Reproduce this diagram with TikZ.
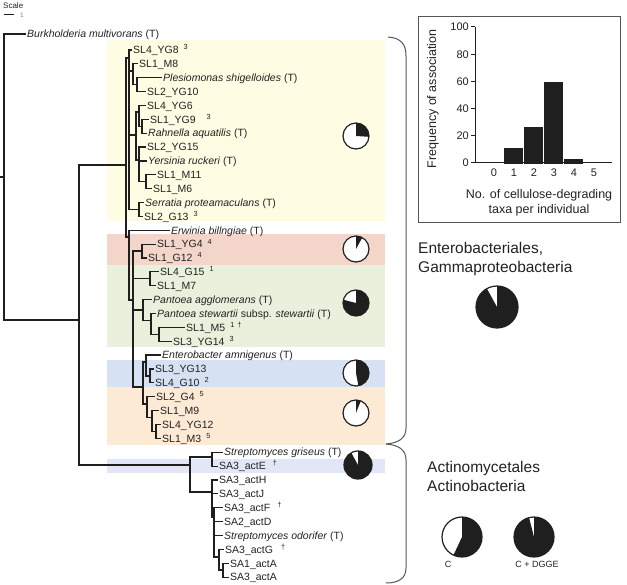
\documentclass[tikz,border=0pt]{standalone}
\usepackage{fontspec}
\setmainfont{Liberation Sans}
\definecolor{ink}{HTML}{1F1F1F}
\definecolor{txt}{HTML}{222222}
\definecolor{bandY}{HTML}{FEFCE2}
\definecolor{bandR}{HTML}{F4D5C9}
\definecolor{bandG}{HTML}{E9F1DC}
\definecolor{bandB}{HTML}{D6E2F4}
\definecolor{bandO}{HTML}{FDEAD5}
\definecolor{bandL}{HTML}{E3E6F7}
\definecolor{frame}{HTML}{555555}
\newcommand{\mypie}[3]{%
  \fill[white] #1 circle[radius=#2];
  \fill[ink] #1 -- ++(90:#2) arc[start angle=90,end angle={90-360*#3},radius=#2] -- cycle;
  \draw[ink,line width=1.2pt] #1 circle[radius=#2];}
\newcommand{\supgap}[1]{\hspace{5pt}\textsuperscript{#1}}
\begin{document}
\begin{tikzpicture}[x=1pt,y=-1pt,
  br/.style={draw=ink,line width=1.2pt},
  lf/.style={anchor=west,inner sep=1pt,text=txt,font=\fontsize{10.5}{12}\selectfont,text height=7.6pt,text depth=0pt},
  tk/.style={inner sep=0pt,text=txt,font=\fontsize{11}{12}\selectfont,text height=7.9pt,text depth=0pt},
  big/.style={anchor=base west,inner sep=0pt,text=txt,font=\fontsize{15.5}{19}\selectfont},
  axl/.style={inner sep=0pt,text=txt,font=\fontsize{12.5}{15}\selectfont},
  brc/.style={draw=frame,line width=1pt}]
\useasboundingbox (0,0) rectangle (627,585);
% bands
\fill[bandY] (107,40) rectangle (385,221);
\fill[bandR] (107,234) rectangle (385,265);
\fill[bandG] (107,265) rectangle (385,347);
\fill[bandB] (107,360) rectangle (385,387);
\fill[bandO] (107,387) rectangle (385,445);
\fill[bandL] (107,459) rectangle (385,473);
% scale
\node[anchor=west,inner sep=0pt,font=\fontsize{8}{9}\selectfont,text=txt] (scl) at (3,6) {Scale};
\coordinate (sb1) at (4,15); \coordinate (sb2) at (14,15);
\draw[ink,line width=1pt] (sb1) -- (sb2);
\node[inner sep=0pt,font=\fontsize{6.5}{7}\selectfont,text=gray] (sbl) at (22,15) {1};
% leaves
\node[lf] (bur) at (26,34) {\textit{Burkholderia multivorans} (T)};
\node[lf] (l1) at (132,50.0) {SL4\_YG8\supgap{3}};
\node[lf] (l2) at (138,63.9) {SL1\_M8};
\node[lf] (l3) at (162,77.7) {\textit{Plesiomonas shigelloides} (T)};
\node[lf] (l4) at (146,91.6) {SL2\_YG10};
\node[lf] (l5) at (146,105.5) {SL4\_YG6};
\node[lf] (l6) at (149,119.4) {SL1\_YG9\hspace{11pt}\textsuperscript{3}};
\node[lf] (l7) at (147,133.2) {\textit{Rahnella aquatilis} (T)};
\node[lf] (l8) at (146,147.1) {SL2\_YG15};
\node[lf] (l9) at (147,161.0) {\textit{Yersinia ruckeri} (T)};
\node[lf] (l10) at (156,174.8) {SL1\_M11};
\node[lf] (l11) at (152,188.7) {SL1\_M6};
\node[lf] (l12) at (144,202.6) {\textit{Serratia proteamaculans} (T)};
\node[lf] (l13) at (143,216.4) {SL2\_G13\supgap{3}};
\node[lf] (l14) at (170,230.3) {\textit{Erwinia billngiae} (T)};
\node[lf] (l15) at (156,244.2) {SL1\_YG4\supgap{4}};
\node[lf] (l16) at (147,258.1) {SL1\_G12\supgap{4}};
\node[lf] (l17) at (159,271.9) {SL4\_G15\supgap{1}};
\node[lf] (l18) at (156,285.8) {SL1\_M7};
\node[lf] (l19) at (152,299.7) {\textit{Pantoea agglomerans} (T)};
\node[lf] (l20) at (156,313.5) {\textit{Pantoea stewartii} subsp. \textit{stewartii} (T)};
\node[lf] (l21) at (185,327.4) {SL1\_M5\supgap{1\hspace{3pt}†}};
\node[lf] (l22) at (172,341.3) {SL3\_YG14\supgap{3}};
\node[lf] (l23) at (161,355.1) {\textit{Enterobacter amnigenus} (T)};
\node[lf] (l24) at (154,369.0) {SL3\_YG13};
\node[lf] (l25) at (154,382.9) {SL4\_G10\supgap{2}};
\node[lf] (l26) at (155,396.8) {SL2\_G4\supgap{5}};
\node[lf] (l27) at (159,410.6) {SL1\_M9};
\node[lf] (l28) at (161,424.5) {SL4\_YG12};
\node[lf] (l29) at (161,438.4) {SL1\_M3\supgap{5}};
\node[lf] (l30) at (223,452.2) {\textit{Streptomyces griseus} (T)};
\node[lf] (l31) at (218,466.1) {SA3\_actE\hspace{7pt}\textsuperscript{†}};
\node[lf] (l32) at (218,480.0) {SA3\_actH};
\node[lf] (l33) at (218,493.8) {SA3\_actJ};
\node[lf] (l34) at (223,507.7) {SA3\_actF\hspace{7pt}\textsuperscript{†}};
\node[lf] (l35) at (223,521.6) {SA2\_actD};
\node[lf] (l36) at (223,535.5) {\textit{Streptomyces odorifer} (T)};
\node[lf] (l37) at (224,549.3) {SA3\_actG\hspace{8pt}\textsuperscript{†}};
\node[lf] (l38) at (229,563.2) {SA1\_actA};
\node[lf] (l39) at (229,577.1) {SA3\_actA};
% internal nodes
\coordinate (stub) at (0,177);
\coordinate (R) at (4,177);
\coordinate (M) at (79,320);
\coordinate (E0) at (126,165);
\coordinate (Y) at (129,58);
\coordinate (A) at (133,71);
\coordinate (A2) at (137,84.7);
\coordinate (B) at (136,135);
\coordinate (B1) at (139,112);
\coordinate (B1a) at (142,126.3);
\coordinate (B2) at (139,160);
\coordinate (B2a) at (146,181.8);
\coordinate (C) at (139,209.5);
\coordinate (Lw) at (129,237);
\coordinate (L1n) at (133,300);
\coordinate (P1) at (142,251.1);
\coordinate (P2) at (150,278.9);
\coordinate (P3) at (143,310);
\coordinate (P3a) at (151,320.5);
\coordinate (P3b) at (159,334.3);
\coordinate (P4) at (143,387);
\coordinate (P5) at (146,362);
\coordinate (P5a) at (150,376);
\coordinate (P6) at (147,404);
\coordinate (P6a) at (152,417.5);
\coordinate (P6b) at (156,431.4);
\coordinate (A0) at (190,465);
\coordinate (Ga) at (212,457);
\coordinate (Gb) at (212,492);
\coordinate (Gc) at (214,517);
\coordinate (Gd) at (219,557);
\coordinate (Ge) at (223,570);
% branches
\draw[br] (stub) -- (R);
\draw[br] (R) |- (bur.west);
\draw[br] (R) |- (M);
\draw[br] (M) |- (E0);
\draw[br] (M) |- (A0);
\draw[br] (E0) |- (Y);
\draw[br] (E0) |- (Lw);
\draw[br] (Y) |- (l1.west);
\draw[br] (Y) |- (A);
\draw[br] (Y) |- (B);
\draw[br] (Y) |- (C);
\draw[br] (A) |- (l2.west);
\draw[br] (A) |- (A2);
\draw[br] (A2) |- (l3.west);
\draw[br] (A2) |- (l4.west);
\draw[br] (B) |- (B1);
\draw[br] (B) |- (B2);
\draw[br] (B1) |- (l5.west);
\draw[br] (B1) |- (B1a);
\draw[br] (B1a) |- (l6.west);
\draw[br] (B1a) |- (l7.west);
\draw[br] (B2) |- (l8.west);
\draw[br] (B2) |- (l9.west);
\draw[br] (B2) |- (B2a);
\draw[br] (B2a) |- (l10.west);
\draw[br] (B2a) |- (l11.west);
\draw[br] (C) |- (l12.west);
\draw[br] (C) |- (l13.west);
\draw[br] (Lw) |- (l14.west);
\draw[br] (Lw) |- (L1n);
\draw[br] (L1n) |- (P1);
\draw[br] (L1n) |- (P2);
\draw[br] (L1n) |- (P3);
\draw[br] (L1n) |- (P4);
\draw[br] (P1) |- (l15.west);
\draw[br] (P1) |- (l16.west);
\draw[br] (P2) |- (l17.west);
\draw[br] (P2) |- (l18.west);
\draw[br] (P3) |- (l19.west);
\draw[br] (P3) |- (P3a);
\draw[br] (P3a) |- (l20.west);
\draw[br] (P3a) |- (P3b);
\draw[br] (P3b) |- (l21.west);
\draw[br] (P3b) |- (l22.west);
\draw[br] (P4) |- (P5);
\draw[br] (P4) |- (P6);
\draw[br] (P5) |- (l23.west);
\draw[br] (P5) |- (P5a);
\draw[br] (P5a) |- (l24.west);
\draw[br] (P5a) |- (l25.west);
\draw[br] (P6) |- (l26.west);
\draw[br] (P6) |- (P6a);
\draw[br] (P6a) |- (l27.west);
\draw[br] (P6a) |- (P6b);
\draw[br] (P6b) |- (l28.west);
\draw[br] (P6b) |- (l29.west);
\draw[br] (A0) |- (Ga);
\draw[br] (A0) |- (Gb);
\draw[br] (Ga) |- (l30.west);
\draw[br] (Ga) |- (l31.west);
\draw[br] (Gb) |- (l32.west);
\draw[br] (Gb) |- (l33.west);
\draw[br] (Gb) |- (Gc);
\draw[br] (Gc) |- (l34.west);
\draw[br] (Gc) |- (l35.west);
\draw[br] (Gc) |- (l36.west);
\draw[br] (Gc) |- (Gd);
\draw[br] (Gd) |- (l37.west);
\draw[br] (Gd) |- (Ge);
\draw[br] (Ge) |- (l38.west);
\draw[br] (Ge) |- (l39.west);
% pies in bands
\mypie{(356,136)}{13pt}{0.26}
\mypie{(356,249)}{13pt}{0.08}
\mypie{(356,303)}{13pt}{0.79}
\mypie{(356,373)}{13pt}{0.47}
\mypie{(356,413)}{13pt}{0.06}
\mypie{(358,465)}{14pt}{0.92}
% braces
\draw[brc] (388,37) .. controls (401,38) and (406,44) .. (406,56) -- (406,428) .. controls (406,438) and (399,443) .. (386,444);
\draw[brc] (386,444) .. controls (399,445) and (406,450) .. (406,460) -- (406,568) .. controls (406,578) and (399,583) .. (386,583);
% group labels
\node[big] (ent1) at (418,253.5) {Enterobacteriales,};
\node[big] (ent2) at (418,272.5) {Gammaproteobacteria};
\mypie{(497,307)}{21pt}{0.92}
\node[big] (act1) at (427,472.5) {Actinomycetales};
\node[big] (act2) at (427,491.5) {Actinobacteria};
\mypie{(462,537)}{20pt}{0.57}
\mypie{(534,537)}{20pt}{0.96}
\node[inner sep=0pt,text=txt,font=\fontsize{9}{10}\selectfont,text height=6.5pt,text depth=0pt] (pc) at (448,564) {C};
\node[inner sep=0pt,text=txt,font=\fontsize{9}{10}\selectfont,text height=6.5pt,text depth=0pt] (pcd) at (537,564) {C + DGGE};
% bar chart
\draw[frame,line width=0.9pt] (418,16) rectangle (620,222);
\draw[ink,line width=1pt] (475,27) -- (475,163) -- (612,163);
\foreach \v in {0,20,...,100} {
  \draw[ink,line width=1pt] (471,{163-1.36*\v}) -- (475,{163-1.36*\v});
  \node[tk,anchor=east] (yt\v) at (469,{163-1.36*\v}) {\v};
}
\foreach \i/\v in {1/11,2/26,3/59,4/2.5} {
  \filldraw[ink,line width=0.6pt] ({484+20*\i},163) rectangle ({502+20*\i},{163-1.36*\v});
}
\foreach \i in {0,...,5} {
  \node[tk] (xt\i) at ({494+20*\i},173) {\i};
}
\node[axl,rotate=90] (ylab) at (433,99) {Frequency of association};
\node[axl,anchor=base] (xlab1) at (539,198.5) {No. of cellulose-degrading};
\node[axl,anchor=base] (xlab2) at (539,213.5) {taxa per individual};
\end{tikzpicture}
\end{document}
